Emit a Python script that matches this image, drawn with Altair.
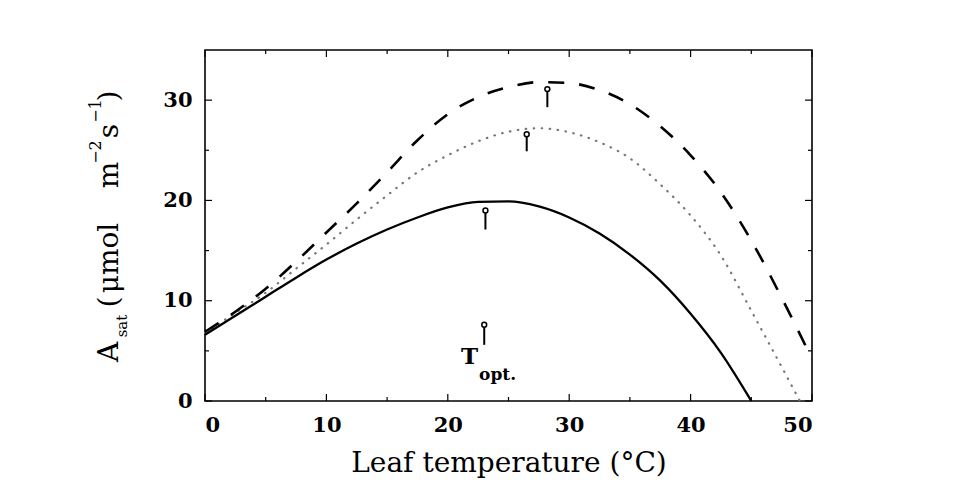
import altair as alt
import pandas as pd

# ---------------- data ----------------
solid_x = [0, 2.5, 5, 7.5, 10, 12.5, 15, 17.5, 20, 22.5, 25, 27.5, 30, 32.5, 35, 37.5, 40, 42.5, 45]
solid_y = [6.6, 8.5, 10.4, 12.3, 14.1, 15.7, 17.1, 18.3, 19.3, 19.85, 19.9, 19.4, 18.3, 16.7,
           14.6, 12.0, 8.7, 4.8, 0.0]

dash_x = [0, 2.5, 5, 7.5, 10, 12.5, 15, 17.5, 20, 22.5, 25, 27.5, 30, 32.5, 35, 37.5, 40, 42.5,
          45, 47.5, 50]
dash_y = [6.9, 8.9, 11.2, 13.9, 16.8, 19.7, 22.8, 26.0, 28.6, 30.3, 31.3, 31.8, 31.7, 31.0,
          29.6, 27.4, 24.5, 20.8, 16.0, 10.3, 4.2]

dot_x = [0, 2.5, 5, 7.5, 10, 12.5, 15, 17.5, 20, 22.5, 25, 27.5, 30, 32.5, 35, 37.5, 40, 42.5,
         45, 47.5, 49]
dot_y = [6.8, 8.8, 10.8, 13.2, 15.6, 18.1, 20.5, 22.8, 24.5, 25.9, 26.85, 27.2, 26.8, 25.8,
         24.2, 21.6, 18.5, 14.5, 9.0, 3.4, 0.0]

# T_opt markers (x, bottom, top)
marker_x = [23.1, 26.5, 28.2, 23.0]
marker_lo = [17.1, 24.9, 29.3, 5.6]
marker_hi = [19.0, 26.6, 31.1, 7.6]

x_major = [0, 10, 20, 30, 40, 50]
x_minor = [5, 15, 25, 35, 45]
y_major = [0, 10, 20, 30]
y_minor = [5, 15, 25]

x_title = "Leaf temperature (°C)"
y_title_parts = ["A", "sat", "(", "μmol", "m", "−2", "s", "−1", ")"]
topt_main = ["T"]
topt_sub = ["opt."]

# ---------------- layout / style ----------------
W, H = 607, 351
LEFT, TOP = 205, 50
FONT = "DejaVu Serif"

# y-title pieces: centre along the page (y px), baseline x px, font size
yt_pos_y = [352, 326, 302, 258, 175, 152, 131, 111, 96]
yt_pos_x = [118, 127, 118, 118, 118, 101, 118, 101, 118]
yt_size = [28, 15, 28, 28, 28, 16, 28, 16, 28]

xs = alt.Scale(domain=[0, 50], nice=False, zero=False)
ys = alt.Scale(domain=[0, 35], nice=False, zero=False)

x_axis = alt.Axis(values=x_major, format="d", ticks=False, domain=False, grid=False,
                  labelFont=FONT, labelFontWeight="bold", labelFontSize=21, labelColor="black",
                  labelPadding=13, title=x_title, titleFont=FONT, titleFontSize=28,
                  titleFontWeight="normal", titleColor="black", titlePadding=14)
y_axis = alt.Axis(values=y_major, format="d", ticks=False, domain=False, grid=False,
                  labelFont=FONT, labelFontWeight="bold", labelFontSize=21, labelColor="black",
                  labelPadding=13, labelBaseline="middle", title=None)


def curve(xv, yv, **style):
    df = pd.DataFrame({"x": xv, "y": yv})
    return alt.Chart(df).mark_line(interpolate="monotone", **style).encode(
        x=alt.X("x:Q", scale=xs, axis=x_axis),
        y=alt.Y("y:Q", scale=ys, axis=y_axis),
    )


solid = curve(solid_x, solid_y, color="black", strokeWidth=2.3)
dashed = curve(dash_x, dash_y, color="black", strokeWidth=2.6, strokeDash=[16, 15])
dotted = curve(dot_x, dot_y, color="#777777", strokeWidth=2.2, strokeDash=[0.5, 7.5],
               strokeCap="round")


# ticks (inward) on all four sides
def xticks(vals, length):
    d = pd.DataFrame({"x": vals})
    bottom = alt.Chart(d).mark_rule(color="black", strokeWidth=1.2).encode(
        x=alt.X("x:Q", scale=xs, axis=x_axis), y=alt.value(H), y2=alt.value(H - length))
    top = alt.Chart(d).mark_rule(color="black", strokeWidth=1.2).encode(
        x=alt.X("x:Q", scale=xs, axis=x_axis), y=alt.value(0), y2=alt.value(length))
    return [bottom, top]


def yticks(vals, length):
    d = pd.DataFrame({"y": vals})
    left = alt.Chart(d).mark_rule(color="black", strokeWidth=1.2).encode(
        y=alt.Y("y:Q", scale=ys, axis=y_axis), x=alt.value(0), x2=alt.value(length))
    right = alt.Chart(d).mark_rule(color="black", strokeWidth=1.2).encode(
        y=alt.Y("y:Q", scale=ys, axis=y_axis), x=alt.value(W), x2=alt.value(W - length))
    return [left, right]


tick_layers = xticks(x_major, 7) + xticks(x_minor, 4) + yticks(y_major, 7) + yticks(y_minor, 4)

mk = pd.DataFrame({"x": marker_x, "lo": marker_lo, "hi": marker_hi})
marker_rules = alt.Chart(mk).mark_rule(color="black", strokeWidth=2).encode(
    x=alt.X("x:Q", scale=xs, axis=x_axis), y=alt.Y("lo:Q", scale=ys, axis=y_axis), y2="hi:Q")
marker_heads = alt.Chart(mk).mark_point(shape="circle", filled=True, fill="white",
                                        stroke="black", strokeWidth=1.5, size=24,
                                        opacity=1).encode(
    x=alt.X("x:Q", scale=xs, axis=x_axis), y=alt.Y("hi:Q", scale=ys, axis=y_axis))

t_main = alt.Chart(pd.DataFrame({"t": topt_main, "x": [21.8], "y": [4.4]})).mark_text(
    font=FONT, fontWeight="bold", fontSize=23, color="black", baseline="middle").encode(
    x=alt.X("x:Q", scale=xs, axis=x_axis), y=alt.Y("y:Q", scale=ys, axis=y_axis), text="t:N")
t_sub = alt.Chart(pd.DataFrame({"t": topt_sub, "x": [24.1], "y": [2.6]})).mark_text(
    font=FONT, fontWeight="bold", fontSize=17, color="black", baseline="middle").encode(
    x=alt.X("x:Q", scale=xs, axis=x_axis), y=alt.Y("y:Q", scale=ys, axis=y_axis), text="t:N")

yt = pd.DataFrame({
    "t": y_title_parts,
    "px": [v - LEFT for v in yt_pos_x],
    "py": [v - TOP for v in yt_pos_y],
    "fs": yt_size,
})
y_title = alt.Chart(yt).mark_text(font=FONT, angle=270, align="center",
                                  baseline="alphabetic", color="black").encode(
    x=alt.X("px:Q", scale=None, axis=None),
    y=alt.Y("py:Q", scale=None, axis=None),
    size=alt.Size("fs:Q", scale=None, legend=None),
    text="t:N",
)

chart = alt.layer(
    dotted, dashed, solid, *tick_layers, marker_rules, marker_heads, t_main, t_sub, y_title
).properties(
    width=W, height=H,
    autosize=alt.AutoSizeParams(type="none"),
    padding={"left": LEFT, "top": TOP, "right": 960 - LEFT - W, "bottom": 502 - TOP - H},
    background="white",
).configure_view(stroke="black", strokeWidth=1.6)

chart.save("out.html", embed_options={"renderer": "svg", "actions": False})
